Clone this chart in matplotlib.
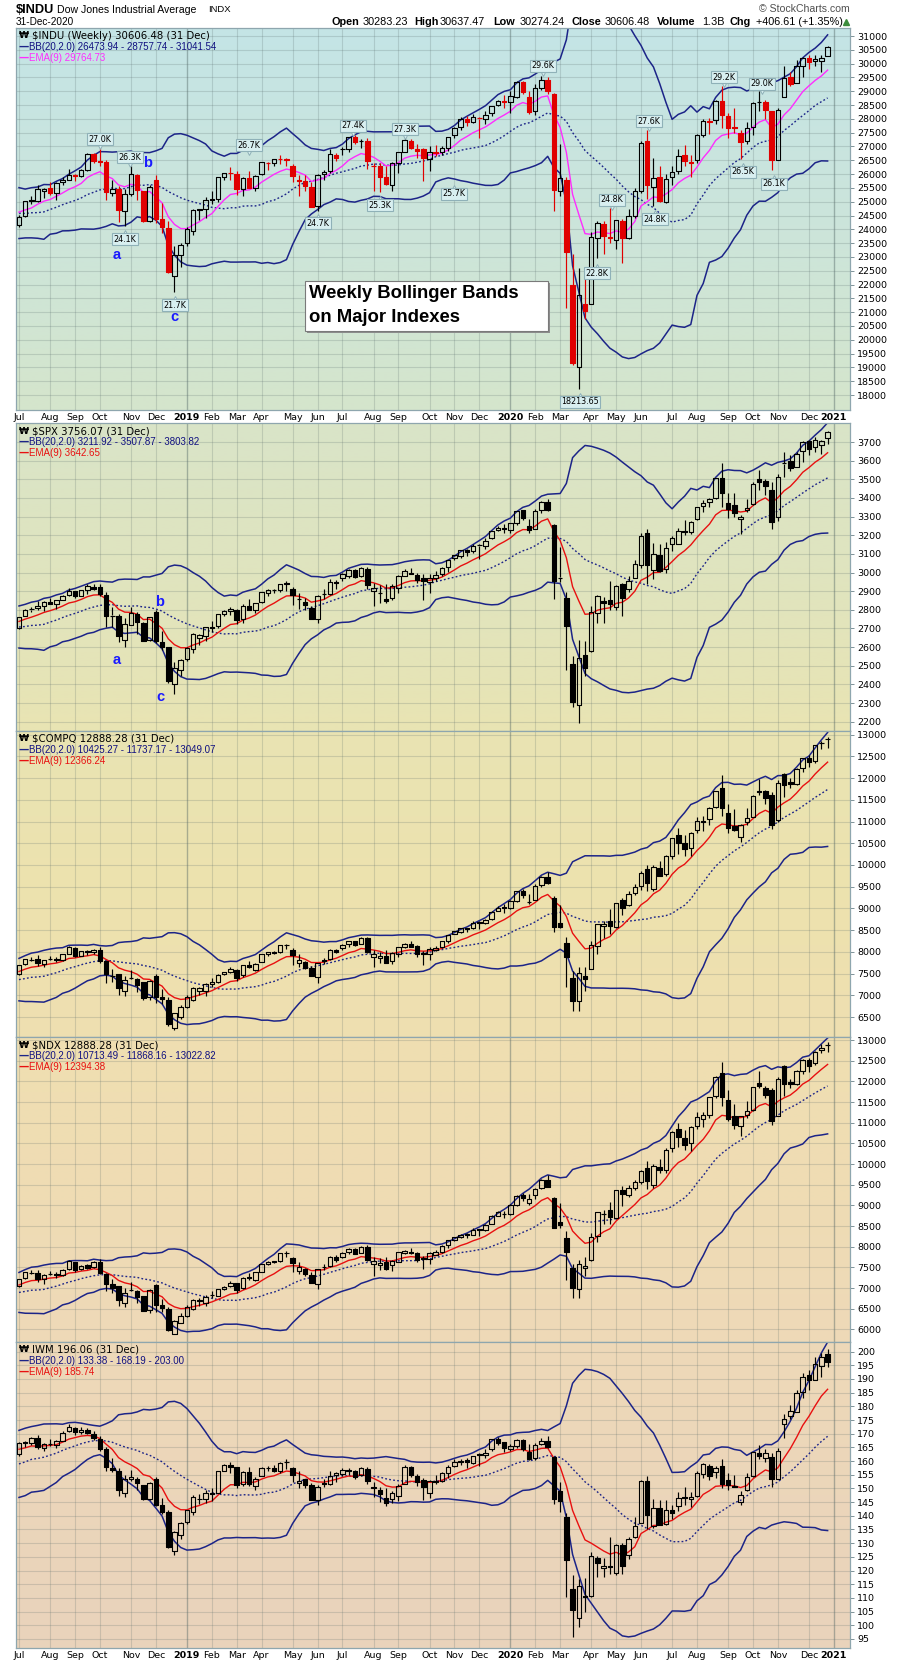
import numpy as np
import pandas as pd
import matplotlib
matplotlib.use("Agg")
import matplotlib.pyplot as plt
from matplotlib.patches import Rectangle
from matplotlib.collections import PatchCollection, LineCollection
from matplotlib.lines import Line2D
from matplotlib.colors import to_rgb

# ---------------- data (weekly, week of 2018-07-02 ... week of 2020-12-28) ----------------
week_start = "2018-07-02"

indu_prior = [25310,24538,25336,24947,23533,24103,23933,24360,24463,24311,24263,24831,24715,24753,24635,25317,25090,24581,24271]
indu_open = [24161,24475,25030,25040,25400,25480,25300,25700,25800,25950,25920,26150,26730,26490,26450,25330,25450,24650,25280,25950,25400,24300,25800,24390,24050,22300,
23060,23500,23950,24700,24720,25050,25100,25880,26050,26020,25460,25850,25500,26000,26400,26400,26550,26550,26300,25800,25750,25550,24830,25990,26100,26700,26900,26900,27330,27200,27200,26300,26280,25900,25600,26400,26800,27200,26900,26900,26550,26800,26800,26960,27400,27700,28000,27900,28000,28000,28200,28500,
28600,28600,28800,29350,28800,28300,29100,29400,28900,25400,25800,22000,19000,21300,21300,23700,24200,23700,23600,24300,23700,24500,25400,27200,25550,25900,25000,25900,26100,26700,26400,26500,27400,27900,27950,28650,28100,27700,27500,27200,27700,28600,28600,28300,26500,28800,29500,29300,29900,30200,30100,30100,30283]
indu_high = [24507,25036,25214,25600,25500,25710,25700,25880,26170,25990,26180,26770,26770,26951,26500,25800,25570,25450,26277,26000,25400,25600,25980,24950,24300,23380,
23520,24100,24750,24750,25180,25400,25900,26050,26240,26100,25900,26110,25950,26430,26450,26560,26700,26600,26350,25950,25950,25700,25990,26150,26900,26780,26970,27350,27398,27270,27300,26400,26400,26300,26450,26800,27306,27260,27100,26950,27000,27050,27000,27350,27700,28050,28090,28175,28050,28290,28460,28700,
28870,29000,29380,29373,29000,29280,29568,29530,28950,27100,25900,23100,22600,22300,23900,24300,24300,24765,24350,24370,24750,25500,27200,27580,26600,26300,26000,26300,26900,27050,26700,27450,28000,28030,28700,29200,28200,28400,27600,27900,28600,29000,28700,28300,28400,29930,29700,30120,30230,30320,30330,30300,30637]
indu_low = [24076,24456,24900,25000,25120,25250,25050,25600,25800,25750,25900,26100,26390,26300,25050,25200,24270,24122,25200,25050,24270,24250,24240,23880,22400,21712,
22640,23400,23800,24350,24400,24900,25000,25800,25800,25250,25200,25500,25380,25980,26150,26300,26350,26300,25700,25200,25400,24800,24680,25800,26050,26480,26700,26800,27100,26950,26200,25400,25340,25600,25400,26050,26800,26900,26600,25743,26100,26650,26700,26850,27300,27600,27750,27850,27320,27800,28100,28450,
28400,28200,28750,28900,28170,28150,29050,28900,24680,25200,21150,19100,18214,20735,21300,22950,23100,23500,23300,22790,23650,24400,25300,25100,24843,25000,24950,25600,26000,26300,25900,26400,27350,27450,27800,27660,27300,27500,26540,27100,27400,28300,28000,26140,26500,28800,29200,29300,29500,29800,29900,29700,30274]
indu_close = [24456,25019,25058,25451,25463,25313,25669,25790,25965,25917,26154,26743,26458,26447,25340,25444,24688,25270,25989,25413,24286,25538,24389,24101,22445,23062,
23433,23996,24706,24737,25064,25106,25883,26031,26026,25450,25849,25502,25929,26425,26412,26559,26543,26505,25942,25764,25586,24815,25984,26090,26719,26600,26922,27332,27154,27192,26485,26287,25886,25629,26403,26797,27220,26935,26820,26573,26817,26770,26958,27347,27681,28005,27876,28051,28015,28135,28455,28645,
28634,28823,29348,28990,28256,29103,29398,28992,25409,25865,23186,19174,21637,21053,23719,24242,23775,23724,24331,23685,24465,25383,27111,25606,25871,25016,25827,26075,26672,26470,26428,27433,27931,27930,28654,28133,27666,27657,27174,27683,28587,28606,28336,26502,28323,29480,29263,29910,30218,30047,30179,30200,30606]

spx_prior = [2747,2691,2786,2752,2588,2641,2604,2656,2670,2670,2663,2728,2712,2721,2735,2779,2780,2755,2718]
spx_open = [2705,2768,2800,2810,2820,2840,2830,2853,2880,2900,2875,2907,2925,2921,2880,2770,2768,2640,2720,2775,2730,2640,2790,2630,2600,2400,
2476,2535,2590,2650,2660,2705,2712,2780,2795,2800,2750,2820,2800,2840,2890,2905,2905,2940,2910,2860,2840,2810,2750,2885,2885,2950,2970,2980,3015,2980,3020,2900,2890,2860,2866,2915,2980,3000,2985,2970,2950,2970,2990,3028,3078,3090,3122,3117,3144,3141,3183,3227,
3240,3226,3266,3334,3248,3236,3335,3380,3257,2974,2863,2509,2290,2558,2578,2782,2846,2854,2815,2936,2914,2969,3038,3213,3015,3094,3018,3155,3155,3224,3219,3288,3357,3380,3402,3508,3371,3363,3285,3334,3367,3500,3493,3441,3296,3583,3600,3566,3653,3705,3675,3684,3723]
spx_high = [2764,2804,2816,2848,2848,2863,2855,2877,2916,2902,2906,2941,2940,2940,2894,2816,2779,2756,2816,2786,2734,2760,2800,2685,2601,2520,
2538,2598,2675,2672,2710,2738,2776,2798,2814,2804,2830,2860,2836,2894,2910,2910,2940,2954,2920,2892,2864,2822,2877,2911,2964,2960,2996,3018,3017,3028,3028,2944,2931,2939,2940,2985,3021,3022,3000,2992,2993,3008,3028,3067,3094,3121,3127,3154,3154,3183,3225,3248,
3258,3268,3330,3337,3285,3341,3385,3393,3260,3137,2893,2553,2637,2631,2819,2880,2870,2955,2935,2945,2981,3068,3212,3234,3156,3154,3165,3198,3240,3280,3279,3352,3388,3399,3509,3588,3425,3428,3309,3397,3486,3550,3502,3486,3529,3646,3628,3645,3708,3713,3727,3711,3760]
spx_low = [2698,2768,2789,2800,2795,2830,2803,2850,2876,2864,2875,2887,2904,2874,2710,2710,2628,2603,2717,2670,2631,2631,2621,2583,2409,2346,
2443,2524,2570,2613,2631,2681,2705,2766,2774,2722,2728,2800,2785,2839,2873,2891,2896,2900,2825,2802,2800,2750,2729,2856,2880,2913,2953,2970,2968,2976,2914,2822,2834,2836,2855,2890,2980,2990,2946,2855,2892,2952,2983,3001,3067,3078,3091,3106,3070,3125,3181,3223,
3212,3214,3257,3280,3214,3235,3318,3328,2856,2948,2478,2281,2192,2447,2575,2728,2727,2797,2798,2767,2898,2969,3025,2936,2966,3004,2999,3115,3152,3200,3209,3284,3324,3354,3396,3349,3293,3300,3209,3323,3361,3441,3415,3233,3279,3511,3543,3566,3594,3633,3648,3636,3687]
spx_close = [2760,2801,2802,2819,2840,2833,2850,2875,2902,2872,2905,2930,2914,2886,2767,2768,2659,2723,2781,2736,2633,2760,2633,2600,2417,2486,
2532,2596,2671,2665,2707,2708,2776,2793,2804,2743,2822,2801,2834,2893,2907,2905,2940,2946,2881,2860,2826,2752,2873,2887,2950,2942,2990,3014,2977,3026,2932,2919,2889,2847,2926,2979,3007,2992,2962,2952,2970,2986,3023,3067,3093,3120,3110,3141,3146,3169,3221,3240,
3235,3265,3330,3295,3226,3328,3380,3338,2954,2972,2711,2305,2541,2489,2790,2875,2837,2831,2930,2864,2955,3044,3194,3041,3098,3009,3130,3185,3225,3216,3271,3351,3373,3397,3508,3427,3341,3319,3298,3348,3477,3484,3465,3270,3510,3585,3558,3638,3699,3663,3709,3703,3756]

compq_prior = [7337,7258,7560,7482,6993,7063,6915,7107,7146,7120,7210,7403,7354,7434,7554,7646,7746,7693,7510]
compq_open = [7500,7710,7820,7830,7730,7830,7830,7820,7950,8090,7910,8010,7990,8050,7780,7450,7480,7100,7400,7380,7300,6950,7450,6960,6900,6240,
6500,6740,6900,7110,7100,7270,7300,7480,7540,7590,7460,7690,7590,7760,7950,7980,8000,8150,8050,7750,7760,7620,7420,7810,7830,8050,8092,8170,8240,8190,8320,7890,7850,7900,7800,7940,8120,8170,8140,7960,7960,8050,8100,8260,8400,8460,8550,8540,8690,8660,8760,8950,
9000,9020,9180,9400,9150,9200,9540,9720,9250,8670,8200,7400,6880,7450,7600,8130,8600,8720,8580,9190,9080,9350,9520,9900,9450,9930,9800,10200,10700,10500,10400,10800,11000,11050,11330,11770,11190,10900,10650,11000,11100,11700,11700,11600,11040,12100,11900,11870,12230,12470,12400,12800,12900]
compq_high = [7700,7830,7880,7933,7820,7896,7870,7954,8133,8100,8020,8034,8067,8110,7788,7600,7490,7448,7571,7398,7300,7350,7490,7148,6950,6600,
6780,7007,7185,7190,7281,7406,7480,7535,7640,7600,7700,7790,7750,7946,8000,8016,8147,8176,8080,7950,7800,7680,7745,7850,8066,8065,8172,8250,8260,8340,8340,8046,8000,8053,7990,8120,8200,8240,8150,8015,8100,8140,8250,8390,8480,8550,8560,8710,8700,8760,8950,9050,
9093,9200,9390,9450,9330,9570,9740,9838,9290,9070,8350,7550,7650,7640,8250,8650,8700,8990,9130,9240,9390,9550,9850,10010,10000,10090,10230,10630,10850,10700,10760,11110,11130,11330,11710,12074,11400,11290,10950,11300,11600,11970,11720,11690,11950,12120,11990,12220,12470,12520,12770,12850,12950]
compq_low = [7472,7700,7800,7671,7646,7805,7757,7800,7950,7874,7900,7938,7950,7750,7292,7307,7003,6984,7372,7072,6900,6900,6830,6808,6300,6190,
6457,6710,6880,7000,6992,7200,7280,7465,7511,7332,7420,7630,7560,7757,7906,7961,7979,8056,7705,7646,7604,7450,7293,7725,7815,7965,8040,8122,8140,8180,7980,7662,7743,7749,7724,7890,8080,8100,7880,7700,7820,8030,8080,8200,8400,8440,8460,8530,8520,8630,8740,8930,
8900,8990,9150,9250,9090,9190,9490,9560,8464,8540,7200,6630,6631,7110,7600,7950,8320,8400,8550,8850,9050,9300,9430,9390,9400,9750,9750,10140,10250,10200,10200,10740,10770,10930,11300,11120,10740,10790,10520,10930,11100,11620,11410,10820,11000,11560,11760,11850,12130,12250,12340,12670,12700]
compq_close = [7688,7826,7820,7737,7812,7839,7816,7946,8110,7903,8010,7987,8046,7788,7497,7449,7167,7357,7407,7248,6939,7331,6970,6911,6333,6585,
6739,6971,7157,7165,7263,7298,7472,7528,7595,7408,7688,7643,7729,7939,7985,7998,8146,8164,7917,7816,7637,7453,7742,7797,8032,8006,8162,8244,8146,8330,8004,7959,7896,7752,7963,8103,8177,8118,7940,7982,8057,8090,8243,8386,8475,8541,8520,8665,8657,8735,8925,9007,
9021,9179,9389,9315,9151,9520,9731,9577,8567,8576,7875,6880,7502,7373,8153,8650,8634,8605,9121,9015,9325,9490,9814,9589,9946,9757,10208,10617,10503,10363,10745,11011,11019,11312,11696,11313,10854,10793,10914,11075,11580,11672,11548,10912,11895,11829,11855,12206,12464,12378,12756,12805,12888]

ndx_prior = [6880,6790,7115,7030,6520,6581,6444,6653,6680,6640,6760,6960,6900,6980,7070,7155,7262,7193,7040]
ndx_open = [7050,7240,7370,7370,7220,7340,7350,7320,7450,7620,7450,7550,7510,7640,7350,7110,7050,6650,6950,6920,6800,6460,7080,6590,6500,5900,
6160,6320,6500,6680,6640,6820,6810,6980,7060,7120,7000,7260,7200,7400,7590,7620,7660,7860,7730,7420,7460,7310,7100,7500,7530,7760,7740,7880,7940,7850,7990,7570,7560,7630,7550,7640,7860,7880,7860,7700,7710,7810,7870,8030,8170,8230,8300,8290,8420,8400,8550,8750,
8800,8790,9010,9250,9050,9250,9410,9620,9180,8600,8200,7480,6980,7480,7680,8260,8790,8890,8700,9380,9260,9420,9570,9900,9500,9940,9850,10380,10840,10620,10500,10920,11090,11180,11650,12200,11550,11150,10910,11180,11310,11960,11850,11780,11170,12360,11990,11940,12250,12520,12450,12760,12880]
ndx_high = [7230,7390,7440,7440,7330,7420,7390,7450,7690,7640,7560,7580,7650,7700,7360,7230,7050,6990,7140,6960,6800,6970,7110,6730,6550,6220,
6400,6590,6740,6760,6830,6940,6980,7040,7160,7130,7260,7370,7390,7590,7650,7660,7850,7890,7760,7620,7480,7380,7470,7570,7780,7790,7870,7960,7980,8010,8030,7740,7720,7740,7680,7870,7930,7970,7870,7770,7880,7910,8040,8160,8240,8310,8320,8450,8430,8550,8760,8870,
8870,9030,9240,9300,9270,9420,9630,9730,9200,9050,8370,7580,7680,7750,8330,8850,8880,9080,9380,9460,9490,9610,9850,10080,9990,10110,10380,10800,10990,10830,10930,11250,11270,11630,12130,12470,11800,11460,11170,11530,11870,12250,11890,11850,12110,12390,12060,12270,12530,12560,12730,12900,12950]
ndx_low = [7020,7230,7330,7155,7110,7310,7250,7300,7440,7400,7430,7450,7490,7330,6920,6880,6560,6540,6920,6630,6440,6400,6430,6410,5970,5895,
6150,6300,6480,6560,6560,6760,6800,6950,7030,6870,6980,7200,7180,7390,7560,7610,7640,7750,7380,7330,7290,7120,6980,7430,7510,7640,7720,7830,7820,7840,7650,7300,7440,7440,7410,7630,7820,7830,7640,7450,7590,7790,7860,7970,8150,8200,8200,8280,8260,8390,8540,8740,
8700,8770,8990,9110,9000,9160,9400,9440,8460,8460,7200,6770,6770,7280,7660,8110,8540,8560,8680,8980,9210,9370,9520,9390,9430,9780,9790,10280,10400,10350,10320,10850,10900,11120,11600,11400,11030,10850,10680,11110,11290,11830,11600,10950,11160,11640,11850,11900,12170,12230,12390,12690,12720]
ndx_close = [7223,7380,7357,7231,7320,7345,7306,7440,7645,7441,7539,7495,7627,7357,7107,7006,6714,6889,6957,6794,6448,6949,6593,6520,5983,6207,
6330,6546,6713,6704,6793,6825,6968,7037,7123,6949,7244,7234,7378,7577,7629,7646,7846,7845,7602,7506,7336,7127,7452,7518,7741,7671,7855,7943,7824,7998,7678,7655,7599,7465,7663,7863,7906,7847,7687,7732,7844,7875,8019,8156,8230,8295,8272,8403,8395,8514,8731,8831,
8794,9004,9234,9188,9151,9401,9623,9447,8462,8530,7875,6995,7588,7528,8230,8833,8784,8718,9377,9286,9410,9555,9825,9588,9946,9849,10341,10768,10655,10461,10905,11140,11193,11625,12111,11626,11088,10936,11151,11288,11853,11886,11666,11052,12055,11938,11939,12258,12528,12377,12711,12805,12888]

iwm_prior = [152.3,149.8,158.0,157.1,151.6,152.5,150.5,154.5,155.9,155.0,157.2,160.2,161.9,162.1,165.8,167.5,169.0,168.0,163.8]
iwm_open = [162.5,166.6,166.5,168.3,164.8,166.3,165.9,167.4,170.9,172.1,170.7,171.4,170.0,168.0,164.5,157.6,156.5,148.3,153.6,153.5,151.2,146.1,153.6,144.0,141.3,127.0,
133.0,137.9,141.5,146.0,146.0,148.5,148.3,156.4,158.6,157.7,151.8,156.0,150.9,154.5,157.6,157.6,156.3,159.5,157.3,152.0,153.3,151.2,145.8,151.5,151.8,155.0,155.2,156.2,156.3,154.8,157.0,150.5,149.5,146.5,146.2,147.4,151.8,157.7,154.4,152.9,148.3,152.3,152.7,155.6,158.3,159.7,160.5,159.2,162.2,162.2,164.5,168.0,
166.8,164.3,165.5,167.6,163.2,161.1,166.3,167.4,161.5,149.2,139.4,113.1,102.7,110.6,110.8,124.5,121.0,121.8,119.0,129.4,125.6,132.4,137.5,152.6,136.3,143.0,136.9,142.3,143.4,146.8,146.0,147.1,155.3,158.1,155.9,158.1,153.0,151.0,145.0,149.4,154.5,163.0,161.3,161.6,153.6,173.4,176.6,177.9,185.2,191.3,189.7,194.6,199.2]
iwm_high = [166.9,167.5,168.8,169.4,166.5,167.9,167.8,171.0,173.4,172.4,172.3,172.0,170.9,169.2,165.3,161.0,157.5,155.0,156.6,154.0,151.4,152.4,154.3,146.6,142.0,134.5,
137.8,142.2,147.5,147.8,149.3,150.0,156.5,159.0,159.8,157.9,156.2,157.9,154.1,158.0,158.3,158.6,159.5,160.9,157.8,156.2,153.6,152.0,151.2,153.5,156.4,156.0,157.4,157.3,156.9,157.9,158.0,152.4,150.7,150.0,149.0,151.6,158.4,158.2,155.3,153.9,152.9,154.9,156.0,158.4,160.8,160.6,161.0,162.0,163.0,164.3,168.2,168.8,
167.0,166.2,168.1,168.2,166.4,166.7,168.4,169.1,161.9,152.5,141.0,118.3,117.0,117.1,126.7,125.3,124.7,132.4,129.7,130.0,132.2,139.6,153.0,154.5,146.0,145.8,145.8,144.0,148.7,150.5,148.6,156.4,159.2,158.8,158.3,160.7,155.6,155.0,149.1,155.6,163.4,166.0,164.3,163.0,164.8,177.2,180.3,185.9,192.3,193.3,197.9,199.5,200.8]
iwm_low = [162.0,165.0,166.0,164.5,163.6,165.5,164.6,167.2,170.6,169.6,170.0,169.8,167.7,163.8,156.3,155.9,147.4,146.9,152.8,149.5,145.7,145.7,143.7,140.6,128.2,125.6,
131.6,137.0,140.3,144.4,144.8,145.5,148.2,156.2,155.8,150.0,150.8,150.9,149.5,154.4,156.3,156.0,155.5,157.0,152.4,150.2,150.0,145.7,144.0,150.7,151.4,152.5,154.7,154.8,153.5,154.5,151.5,146.8,144.9,143.6,144.8,145.5,151.7,154.2,150.9,145.6,146.4,151.5,152.2,153.9,158.0,158.4,157.5,159.0,158.2,161.3,163.7,165.8,
163.3,163.5,164.8,163.7,160.5,160.4,165.9,164.8,144.4,141.4,110.4,95.7,99.4,104.7,110.5,117.5,117.5,118.9,118.4,118.7,124.3,131.8,137.2,135.0,135.6,136.6,136.6,139.0,141.7,144.0,143.3,146.7,153.9,153.2,153.9,150.3,149.4,150.5,144.1,148.9,154.0,160.6,159.7,150.4,153.4,168.5,175.4,177.9,182.9,186.0,189.6,190.8,194.3]
iwm_close = [166.5,166.9,168.3,165.0,166.1,166.3,167.3,170.4,172.4,170.8,171.4,170.2,168.5,164.5,157.9,156.6,149.3,153.6,154.1,151.9,146.0,152.1,143.9,141.5,128.7,133.9,
137.2,142.0,147.0,146.3,148.3,148.1,156.3,158.4,157.9,151.2,155.9,151.7,153.4,157.5,157.4,156.2,159.4,159.5,155.0,152.6,151.3,145.9,150.6,151.9,154.7,155.6,156.7,156.6,154.1,157.3,152.7,150.1,148.1,144.7,148.5,150.9,157.9,154.8,152.4,150.5,152.6,152.7,155.6,158.0,159.6,160.0,159.8,161.7,162.7,162.9,167.9,166.5,
164.7,165.5,167.6,164.3,160.6,166.0,167.2,165.2,146.1,145.3,123.9,105.5,114.2,110.3,125.2,122.8,121.5,121.4,129.3,121.6,131.4,136.3,152.8,140.4,142.8,136.8,142.1,141.0,146.4,146.6,146.9,155.8,158.8,154.5,157.3,151.7,151.4,150.6,147.7,154.0,163.2,162.0,163.0,153.3,163.5,175.4,178.2,184.8,190.8,189.6,195.6,198.0,196.1]

legend_main = ["$INDU (Weekly) 30606.48 (31 Dec)", "$SPX 3756.07 (31 Dec)", "$COMPQ 12888.28 (31 Dec)",
               "$NDX 12888.28 (31 Dec)", "IWM 196.06 (31 Dec)"]
legend_bb = ["BB(20,2.0) 26473.94 - 28757.74 - 31041.54", "BB(20,2.0) 3211.92 - 3507.87 - 3803.82",
             "BB(20,2.0) 10425.27 - 11737.17 - 13049.07", "BB(20,2.0) 10713.49 - 11868.16 - 13022.82",
             "BB(20,2.0) 133.38 - 168.19 - 203.00"]
legend_ema = ["EMA(9) 29764.73", "EMA(9) 3642.65", "EMA(9) 12366.24", "EMA(9) 12394.38", "EMA(9) 185.74"]

# tick label ranges per panel (first, last, step)
tick_ranges = [(18000, 31000, 500), (2200, 3700, 100), (6500, 13000, 500), (6000, 13000, 500), (95, 200, 5)]

# peak / trough flags on the Dow panel (text, centre x px, centre y px, kind)
flags = [("27.0K", 100, 139, "hi"), ("26.3K", 130, 157, "hi"), ("24.1K", 125, 239, "lo"),
         ("21.7K", 175, 305, "lo"), ("26.7K", 249, 145, "hi"), ("27.4K", 353, 126, "hi"),
         ("27.3K", 405, 129, "hi"), ("24.7K", 318, 223, "lo"), ("25.3K", 380, 205, "lo"),
         ("25.7K", 454, 194, "lo"), ("29.6K", 543, 66, "hi"), ("18213.65", 580, 402, "lo"),
         ("24.8K", 612, 200, "hi"), ("22.8K", 597, 273, "lo"), ("24.8K", 655, 219, "lo"),
         ("27.6K", 649, 121, "hi"), ("29.2K", 724, 77, "hi"), ("29.0K", 762, 84, "hi"),
         ("26.5K", 743, 172, "lo"), ("26.1K", 774, 184, "lo")]
letters = [("b", 148, 163), ("a", 117, 255), ("c", 174, 317),
           ("b", 160, 602), ("a", 117, 660), ("c", 160, 697)]

# ---------------- figure ----------------
W, H = 900, 1663
fig = plt.figure(figsize=(W / 100, H / 100), dpi=100)
fig.patch.set_facecolor("white")

NAVY = "#1c2488"
RED = "#e00000"
GRIDC = (0.35, 0.42, 0.42, 0.22)

panels = [  # top px, bottom px, ylim, data, ema colour, coloured candles
    (28, 410, (17457, 31290), (indu_open, indu_high, indu_low, indu_close, indu_prior), "#ff2cff", True),
    (423, 731, (2150, 3802), (spx_open, spx_high, spx_low, spx_close, spx_prior), "#e81010", False),
    (731, 1037, (6040, 13083), (compq_open, compq_high, compq_low, compq_close, compq_prior), "#e81010", False),
    (1037, 1342, (5695, 13073), (ndx_open, ndx_high, ndx_low, ndx_close, ndx_prior), "#e81010", False),
    (1342, 1648, (91.7, 203.5), (iwm_open, iwm_high, iwm_low, iwm_close, iwm_prior), "#e81010", False),
]

stops_y = [28, 250, 410, 423, 600, 731, 900, 1037, 1200, 1342, 1648]
stops_c = ["#c4e4e6", "#cde5d9", "#d5e5cc", "#d9e4c8", "#e1e4bd", "#e9e4b3", "#ede2ae",
           "#efdfb1", "#efdcb4", "#eed9b8", "#e9d3bc"]
stops_rgb = np.array([to_rgb(c) for c in stops_c])

weeks = pd.date_range(week_start, periods=132, freq="W-MON")
mpos, mlab = [], []
for i, d in enumerate(weeks):
    if i == 0 or d.month != weeks[i - 1].month:
        mpos.append(i)
        mlab.append(str(d.year) if d.month == 1 else d.strftime("%b"))

X0, X1 = 16, 850
XMIN, XMAX = -0.48, 133.6

for pi, (top, bot, ylim, data, emac, colored) in enumerate(panels):
    ax = fig.add_axes([X0 / W, 1 - bot / H, (X1 - X0) / W, (bot - top) / H])
    ys = np.linspace(top, bot, 256)
    img = np.stack([np.interp(ys, stops_y, stops_rgb[:, k]) for k in range(3)], axis=-1)[:, None, :]
    ax.imshow(img, extent=[0, 1, 0, 1], transform=ax.transAxes, aspect="auto", zorder=-10,
              interpolation="bilinear")
    o, h, l, c, prior = data
    n = min(len(o), len(h), len(l), len(c))
    x = np.arange(n)

    t0, t1, step = tick_ranges[pi]
    yt = np.arange(t0, t1 + step / 2, step)
    for p, lab in zip(mpos, mlab):
        isyear = lab.isdigit()
        ax.axvline(p, color=(0.3, 0.38, 0.38, 0.42 if isyear else 0.2), lw=1.0 if isyear else 0.8, zorder=0)
    for v in yt:
        ax.axhline(v, color=GRIDC, lw=0.8, zorder=0)

    allc = pd.Series(list(prior) + list(c[:n]), dtype=float)
    mid = allc.rolling(20).mean()
    sd = allc.rolling(20).std(ddof=0)
    ema = allc.ewm(span=9, adjust=False).mean()
    k = len(prior)
    ax.plot(x, (mid + 2 * sd).values[k:], color=NAVY, lw=1.1, zorder=2)
    ax.plot(x, (mid - 2 * sd).values[k:], color=NAVY, lw=1.1, zorder=2)
    ax.plot(x, mid.values[k:], color=NAVY, lw=1.0, ls=(0, (1.3, 1.6)), zorder=2)
    ax.plot(x, ema.values[k:], color=emac, lw=1.0, zorder=2)

    wdt = 0.72
    segs, scol, rects, fcs, ecs = [], [], [], [], []
    for i in range(n):
        pc = c[i - 1] if i > 0 else prior[-1]
        col = RED if (colored and c[i] < pc) else "black"
        lo_b, hi_b = min(o[i], c[i]), max(o[i], c[i])
        segs.append([(i, l[i]), (i, lo_b)])
        segs.append([(i, hi_b), (i, h[i])])
        scol += [col, col]
        if hi_b - lo_b < (ylim[1] - ylim[0]) * 0.0015:
            segs.append([(i - wdt / 2, c[i]), (i + wdt / 2, c[i])])
            scol.append(col)
        else:
            rects.append(Rectangle((i - wdt / 2, lo_b), wdt, hi_b - lo_b))
            fcs.append(col if c[i] < o[i] else "none")
            ecs.append(col)
    ax.add_collection(LineCollection(segs, colors=scol, linewidths=0.85, zorder=3))
    ax.add_collection(PatchCollection(rects, facecolors=fcs, edgecolors=ecs, linewidths=0.8, zorder=4))

    ax.set_xlim(XMIN, XMAX)
    ax.set_ylim(*ylim)
    ax.yaxis.tick_right()
    ax.set_yticks(yt)
    ax.set_yticklabels([("%d" % v) for v in yt])
    ax.tick_params(axis="y", labelsize=6.8, length=3, width=0.7, color="#7f9298", pad=2, labelcolor="black")
    ax.set_xticks(mpos)
    if pi in (0, 4):
        ax.set_xticklabels(mlab)
        for t, lab in zip(ax.get_xticklabels(), mlab):
            if lab.isdigit():
                t.set_fontweight("bold")
                t.set_fontsize(7.2)
        ax.tick_params(axis="x", labelsize=6.8, length=0, pad=2.5)
    else:
        ax.set_xticklabels([])
        ax.tick_params(axis="x", length=0)
    for s in ax.spines.values():
        s.set_color("#8ea6ae")
        s.set_linewidth(0.9)

    fig.text((X0 + 3) / W, 1 - (top + 8) / H, "\u20a9", fontsize=6.6, fontweight="bold", va="center", ha="left")
    fig.text((X0 + 16) / W, 1 - (top + 8) / H, legend_main[pi], fontsize=7.3, va="center", ha="left")
    fig.text((X0 + 2.5) / W, 1 - (top + 19) / H, "\u2014", fontsize=7.5, fontweight="bold", color=NAVY, va="center")
    fig.text((X0 + 13) / W, 1 - (top + 19) / H, legend_bb[pi], fontsize=7.0, color="#101080",
             family="Liberation Sans", va="center")
    fig.text((X0 + 2.5) / W, 1 - (top + 30) / H, "\u2014", fontsize=7.5, fontweight="bold", color=emac, va="center")
    fig.text((X0 + 13) / W, 1 - (top + 30) / H, legend_ema[pi], fontsize=7.0, color=emac,
             family="Liberation Sans", va="center")

# ---------------- header ----------------
fig.text(16 / W, 1 - 10 / H, "$INDU", fontsize=9.2, fontweight="bold", family="Liberation Sans", va="center")
fig.text(57 / W, 1 - 10 / H, "Dow Jones Industrial Average", fontsize=7.6, family="Liberation Sans", va="center")
fig.text(208 / W, 1 - 10 / H, "INDX", fontsize=6.8, family="Liberation Sans", va="center")
fig.text(16 / W, 1 - 22 / H, "31-Dec-2020", fontsize=7.2, family="Liberation Sans", va="center")
fig.text(850 / W, 1 - 9 / H, "\u00a9 StockCharts.com", fontsize=7.6, color="#505050",
         family="Liberation Sans", va="center", ha="right")
hdr = [("Open", 332, True), ("30283.23", 363, False), ("High", 414, True), ("30637.47", 440, False),
       ("Low", 493, True), ("30274.24", 520, False), ("Close", 571, True), ("30606.48", 605, False),
       ("Volume", 657, True), ("1.3B", 702, False), ("Chg", 730, True), ("+406.61 (+1.35%)", 756, False)]
for t, xp, b in hdr:
    fig.text(xp / W, 1 - 22 / H, t, fontsize=7.8, fontweight="bold" if b else "normal",
             family="Liberation Sans", va="center", ha="left")
fig.add_artist(Line2D([846 / W], [1 - 22 / H], marker="^", ms=4.5, color="#3c8c3c", transform=fig.transFigure))

# ---------------- annotations ----------------
FC, EC = "#d8eff0", "#8fb1b8"
for txt, cx, cy, kind in flags:
    fig.text(cx / W, 1 - cy / H, txt, fontsize=5.8, ha="center", va="center", zorder=12,
             bbox=dict(boxstyle="square,pad=0.2", fc=FC, ec=EC, lw=0.8))
    py = cy + 6.5 if kind == "hi" else cy - 6.5
    fig.add_artist(Line2D([cx / W], [1 - py / H], marker="v" if kind == "hi" else "^", ms=5,
                          mfc=FC, mec=EC, mew=0.7, transform=fig.transFigure, zorder=11))
for t, cx, cy in letters:
    fig.text(cx / W, 1 - cy / H, t, fontsize=10.5, fontweight="bold", color="#1a1aff",
             ha="center", va="center", family="Liberation Sans", zorder=12)

fig.add_artist(Rectangle((307 / W, 1 - 333 / H), 243 / W, 50 / H, transform=fig.transFigure,
                         fc="#8c8c8c", ec="none", zorder=13))
fig.add_artist(Rectangle((305 / W, 1 - 331 / H), 243 / W, 50 / H, transform=fig.transFigure,
                         fc="white", ec="#7a7a7a", lw=0.8, zorder=14))
fig.text(309 / W, 1 - 293 / H, "Weekly Bollinger Bands", fontsize=13.3, fontweight="bold",
         family="Liberation Sans", va="center", zorder=15)
fig.text(309 / W, 1 - 317 / H, "on Major Indexes", fontsize=13.3, fontweight="bold",
         family="Liberation Sans", va="center", zorder=15)

fig.savefig("out.png", dpi=100)
